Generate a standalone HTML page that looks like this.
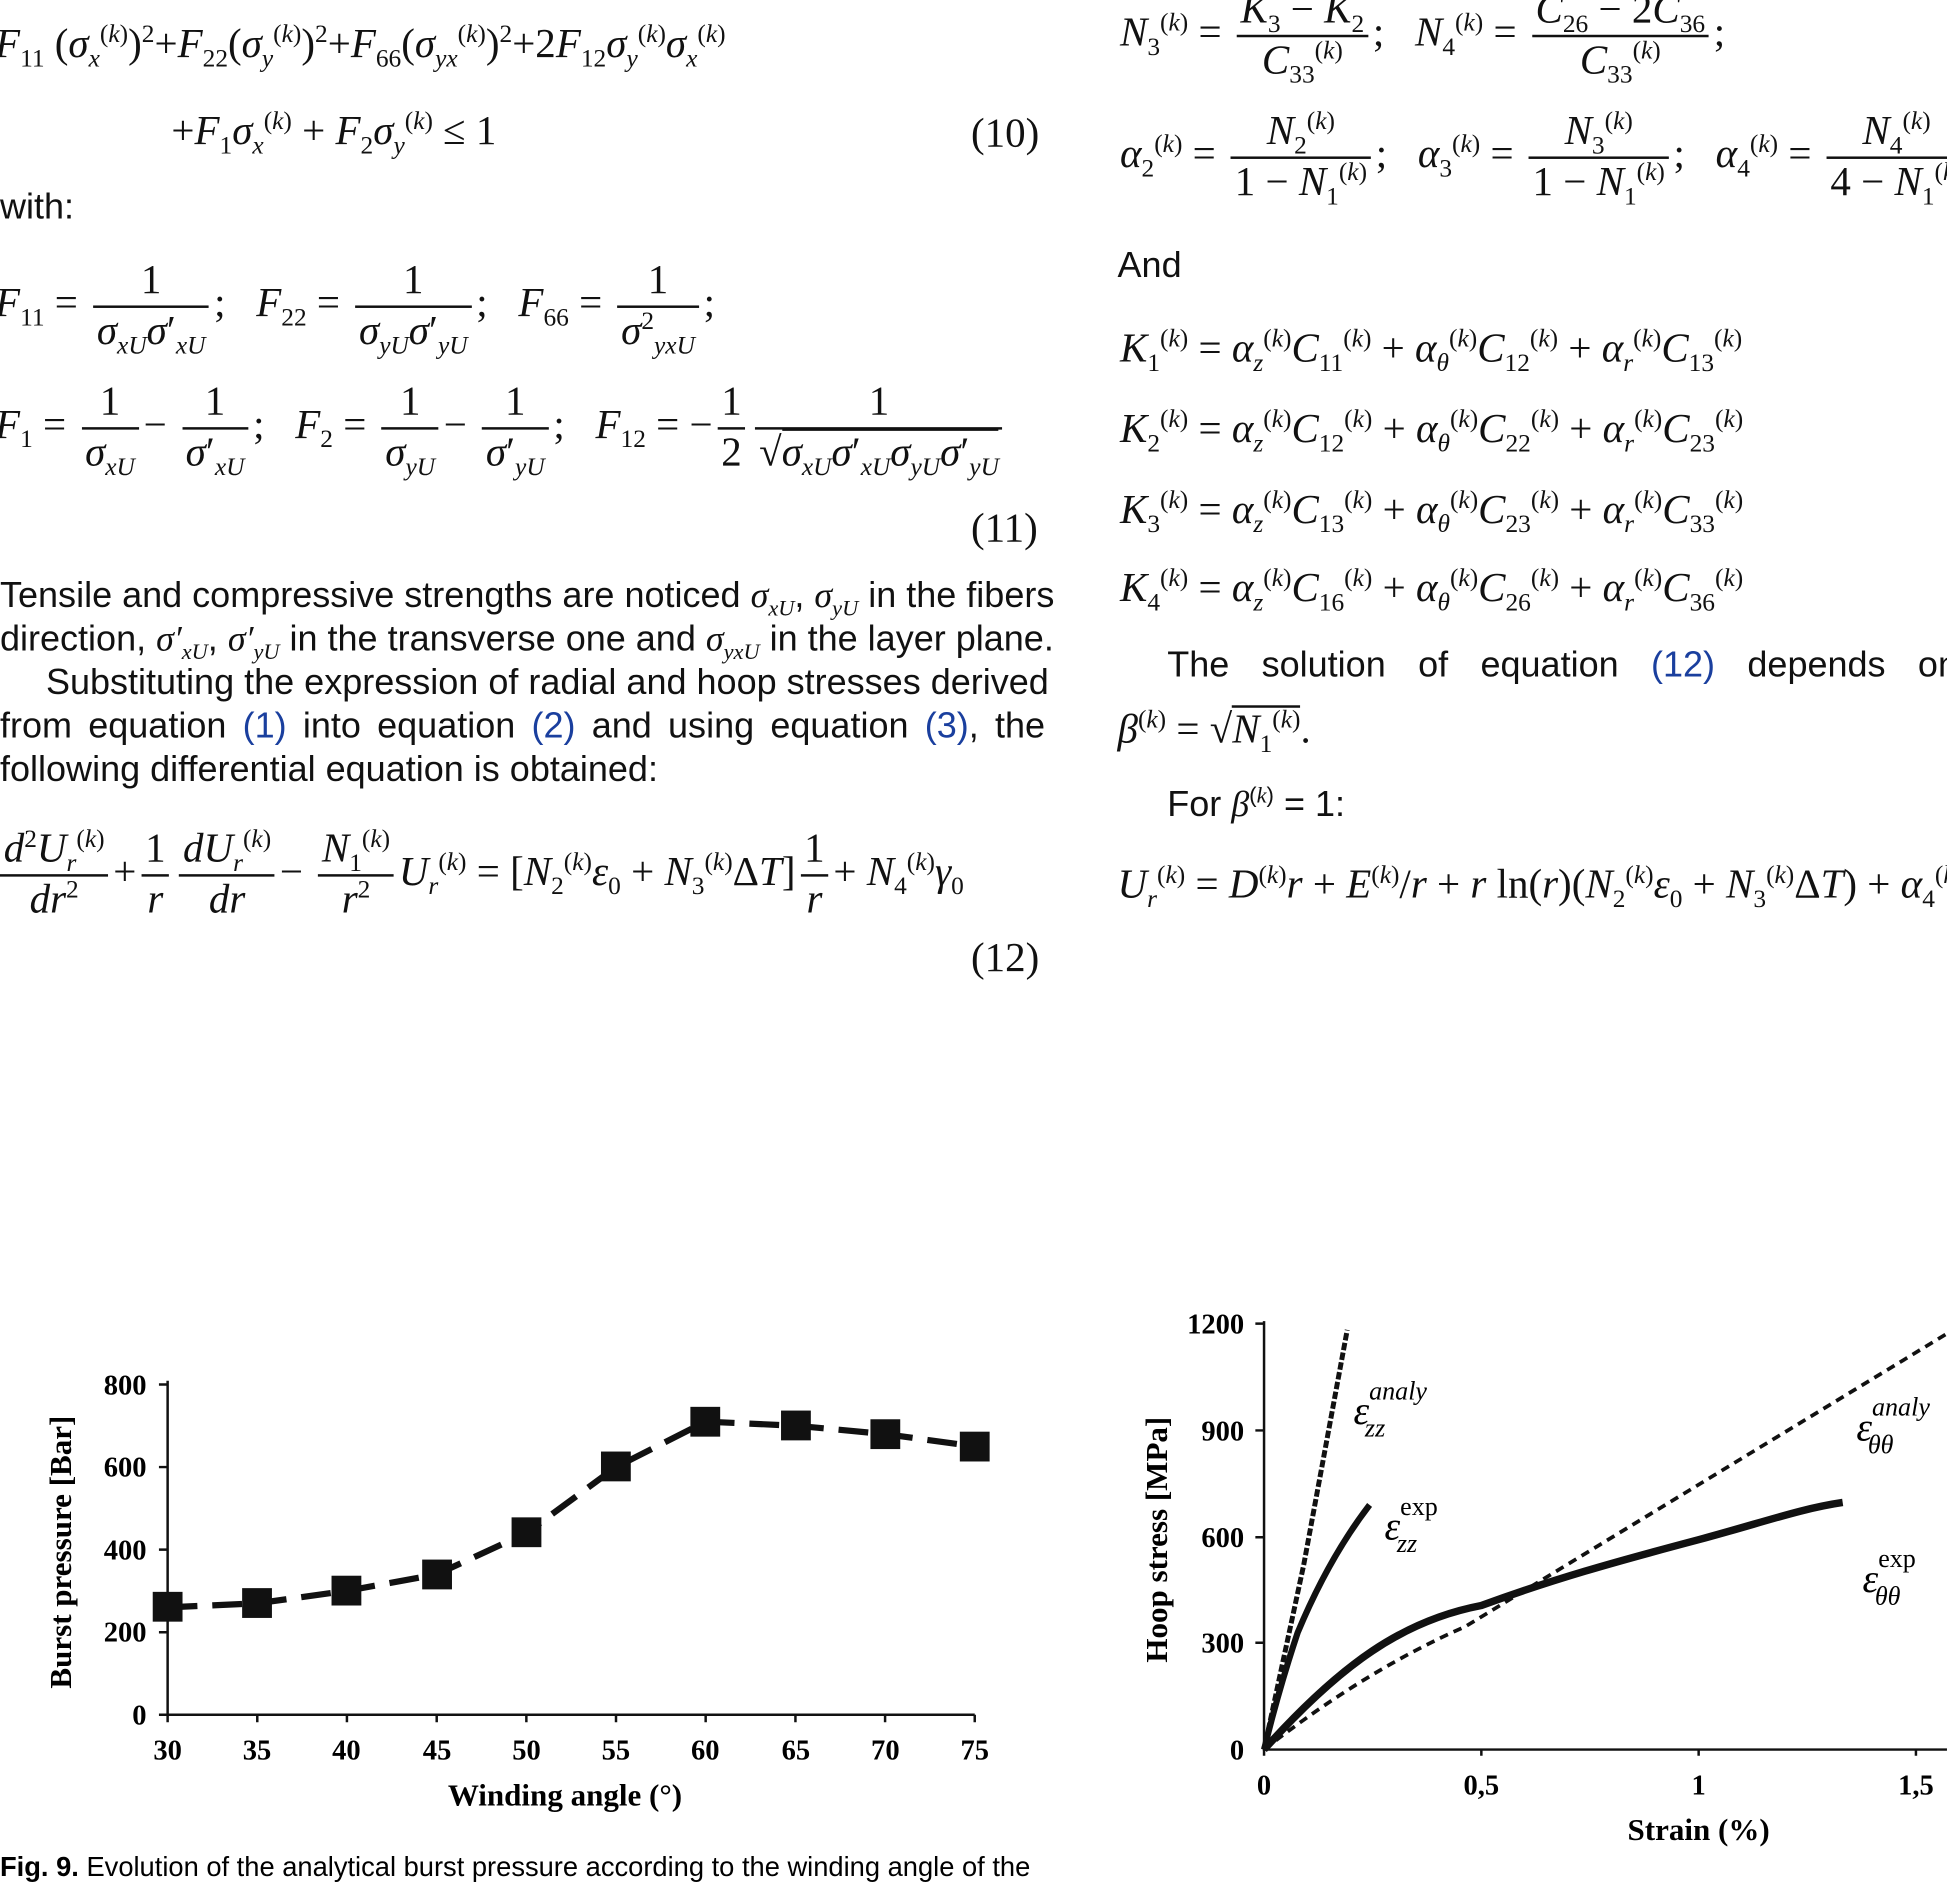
<!DOCTYPE html>
<html><head><meta charset="utf-8"><style>
html,body{margin:0;padding:0;background:#fff;}
#w{width:1947px;height:1883px;overflow:hidden;position:relative;}
#s{position:absolute;left:0;top:0;width:1568px;height:1517px;transform:scale(1.2417);transform-origin:0 0;font-family:"Liberation Sans",sans-serif;color:#111;}
.l{position:absolute;white-space:nowrap;font-size:29px;line-height:1;}
.m{font-family:"Liberation Serif",serif;font-size:33px;}
i{font-family:"Liberation Serif",serif;}
sup,sub{font-size:0.62em;line-height:0;}
.fr{display:inline-block;vertical-align:middle;text-align:center;margin:0 4px;}
.fr>span{display:block;padding:0 3px;}
.fr>span.n{border-bottom:2px solid #111;padding-bottom:3px;}
.fr>span.d{padding-top:3px;}
.b{color:#1a3f9e;}
.t{font-size:29px;}
</style></head><body><div id="w"><div id="s">

<div class="l m" style="left:-4px;top:20px;"><i>F</i><sub>11</sub> (<i>σ</i><sub><i>x</i></sub><sup>(<i>k</i>)</sup>)<sup>2</sup>+<i>F</i><sub>22</sub>(<i>σ</i><sub><i>y</i></sub><sup>(<i>k</i>)</sup>)<sup>2</sup>+<i>F</i><sub>66</sub>(<i>σ</i><sub><i>yx</i></sub><sup>(<i>k</i>)</sup>)<sup>2</sup>+2<i>F</i><sub>12</sub><i>σ</i><sub><i>y</i></sub><sup>(<i>k</i>)</sup><i>σ</i><sub><i>x</i></sub><sup>(<i>k</i>)</sup></div>
<div class="l m" style="left:138px;top:90px;">+<i>F</i><sub>1</sub><i>σ</i><sub><i>x</i></sub><sup>(<i>k</i>)</sup> + <i>F</i><sub>2</sub><i>σ</i><sub><i>y</i></sub><sup>(<i>k</i>)</sup> ≤ 1</div>
<div class="l m" style="left:782px;top:92px;">(10)</div>
<div class="l t" style="left:0;top:153px;">with:</div>

<div class="l m" style="left:-4px;top:210px;"><i>F</i><sub>11</sub> = <span class="fr"><span class="n">1</span><span class="d"><i>σ</i><sub><i>xU</i></sub><i>σ</i>′<sub><i>xU</i></sub></span></span>; &nbsp; <i>F</i><sub>22</sub> = <span class="fr"><span class="n">1</span><span class="d"><i>σ</i><sub><i>yU</i></sub><i>σ</i>′<sub><i>yU</i></sub></span></span>; &nbsp; <i>F</i><sub>66</sub> = <span class="fr"><span class="n">1</span><span class="d"><i>σ</i><sup>2</sup><sub><i>yxU</i></sub></span></span>;</div>
<div class="l m" style="left:-4px;top:308px;"><i>F</i><sub>1</sub> = <span class="fr"><span class="n">1</span><span class="d"><i>σ</i><sub><i>xU</i></sub></span></span>− <span class="fr"><span class="n">1</span><span class="d"><i>σ</i>′<sub><i>xU</i></sub></span></span>; &nbsp; <i>F</i><sub>2</sub> = <span class="fr"><span class="n">1</span><span class="d"><i>σ</i><sub><i>yU</i></sub></span></span>− <span class="fr"><span class="n">1</span><span class="d"><i>σ</i>′<sub><i>yU</i></sub></span></span>; &nbsp; <i>F</i><sub>12</sub> = −<span class="fr"><span class="n">1</span><span class="d">2</span></span><span class="fr"><span class="n">1</span><span class="d">√<span style="border-top:2px solid #111"><i>σ</i><sub><i>xU</i></sub><i>σ</i>′<sub><i>xU</i></sub><i>σ</i><sub><i>yU</i></sub><i>σ</i>′<sub><i>yU</i></sub></span></span></span></div>
<div class="l m" style="left:782px;top:410px;">(11)</div>

<div class="l t" style="left:0;top:466px;">Tensile and compressive strengths are noticed <i>σ<sub>xU</sub></i>, <i>σ<sub>yU</sub></i> in the fibers</div>
<div class="l t" style="left:0;top:501px;">direction, <i>σ′<sub>xU</sub></i>, <i>σ′<sub>yU</sub></i> in the transverse one and <i>σ<sub>yxU</sub></i> in the layer plane.</div>
<div class="l t" style="left:37px;top:536px;">Substituting the expression of radial and hoop stresses derived</div>
<div class="l t" style="left:0;top:571px;word-spacing:5px;">from equation <span class="b">(1)</span> into equation <span class="b">(2)</span> and using equation <span class="b">(3)</span>, the</div>
<div class="l t" style="left:0;top:606px;">following differential equation is obtained:</div>

<div class="l m" style="left:-4px;top:668px;"><span class="fr"><span class="n"><i>d</i><sup>2</sup><i>U</i><sub><i>r</i></sub><sup>(<i>k</i>)</sup></span><span class="d"><i>dr</i><sup>2</sup></span></span>+<span class="fr"><span class="n">1</span><span class="d"><i>r</i></span></span><span class="fr"><span class="n"><i>dU</i><sub><i>r</i></sub><sup>(<i>k</i>)</sup></span><span class="d"><i>dr</i></span></span>− <span class="fr"><span class="n"><i>N</i><sub>1</sub><sup>(<i>k</i>)</sup></span><span class="d"><i>r</i><sup>2</sup></span></span><i>U</i><sub><i>r</i></sub><sup>(<i>k</i>)</sup> = [<i>N</i><sub>2</sub><sup>(<i>k</i>)</sup><i>ε</i><sub>0</sub> + <i>N</i><sub>3</sub><sup>(<i>k</i>)</sup>Δ<i>T</i>]<span class="fr"><span class="n">1</span><span class="d"><i>r</i></span></span>+ <i>N</i><sub>4</sub><sup>(<i>k</i>)</sup><i>γ</i><sub>0</sub></div>
<div class="l m" style="left:782px;top:756px;">(12)</div>

<div class="l m" style="left:902px;top:-8px;"><i>N</i><sub>3</sub><sup>(<i>k</i>)</sup> = <span class="fr"><span class="n"><i>K</i><sub>3</sub> − <i>K</i><sub>2</sub></span><span class="d"><i>C</i><sub>33</sub><sup>(<i>k</i>)</sup></span></span>; &nbsp; <i>N</i><sub>4</sub><sup>(<i>k</i>)</sup> = <span class="fr"><span class="n"><i>C</i><sub>26</sub> − 2<i>C</i><sub>36</sub></span><span class="d"><i>C</i><sub>33</sub><sup>(<i>k</i>)</sup></span></span>;</div>
<div class="l m" style="left:902px;top:90px;"><i>α</i><sub>2</sub><sup>(<i>k</i>)</sup> = <span class="fr"><span class="n"><i>N</i><sub>2</sub><sup>(<i>k</i>)</sup></span><span class="d">1 − <i>N</i><sub>1</sub><sup>(<i>k</i>)</sup></span></span>; &nbsp; <i>α</i><sub>3</sub><sup>(<i>k</i>)</sup> = <span class="fr"><span class="n"><i>N</i><sub>3</sub><sup>(<i>k</i>)</sup></span><span class="d">1 − <i>N</i><sub>1</sub><sup>(<i>k</i>)</sup></span></span>; &nbsp; <i>α</i><sub>4</sub><sup>(<i>k</i>)</sup> = <span class="fr"><span class="n"><i>N</i><sub>4</sub><sup>(<i>k</i>)</sup></span><span class="d">4 − <i>N</i><sub>1</sub><sup>(<i>k</i>)</sup></span></span></div>
<div class="l t" style="left:900px;top:200px;">And</div>
<div class="l m" style="left:902px;top:265px;"><i>K</i><sub>1</sub><sup>(<i>k</i>)</sup> = <i>α</i><sub><i>z</i></sub><sup>(<i>k</i>)</sup><i>C</i><sub>11</sub><sup>(<i>k</i>)</sup> + <i>α</i><sub><i>θ</i></sub><sup>(<i>k</i>)</sup><i>C</i><sub>12</sub><sup>(<i>k</i>)</sup> + <i>α</i><sub><i>r</i></sub><sup>(<i>k</i>)</sup><i>C</i><sub>13</sub><sup>(<i>k</i>)</sup></div>
<div class="l m" style="left:902px;top:330px;"><i>K</i><sub>2</sub><sup>(<i>k</i>)</sup> = <i>α</i><sub><i>z</i></sub><sup>(<i>k</i>)</sup><i>C</i><sub>12</sub><sup>(<i>k</i>)</sup> + <i>α</i><sub><i>θ</i></sub><sup>(<i>k</i>)</sup><i>C</i><sub>22</sub><sup>(<i>k</i>)</sup> + <i>α</i><sub><i>r</i></sub><sup>(<i>k</i>)</sup><i>C</i><sub>23</sub><sup>(<i>k</i>)</sup></div>
<div class="l m" style="left:902px;top:395px;"><i>K</i><sub>3</sub><sup>(<i>k</i>)</sup> = <i>α</i><sub><i>z</i></sub><sup>(<i>k</i>)</sup><i>C</i><sub>13</sub><sup>(<i>k</i>)</sup> + <i>α</i><sub><i>θ</i></sub><sup>(<i>k</i>)</sup><i>C</i><sub>23</sub><sup>(<i>k</i>)</sup> + <i>α</i><sub><i>r</i></sub><sup>(<i>k</i>)</sup><i>C</i><sub>33</sub><sup>(<i>k</i>)</sup></div>
<div class="l m" style="left:902px;top:458px;"><i>K</i><sub>4</sub><sup>(<i>k</i>)</sup> = <i>α</i><sub><i>z</i></sub><sup>(<i>k</i>)</sup><i>C</i><sub>16</sub><sup>(<i>k</i>)</sup> + <i>α</i><sub><i>θ</i></sub><sup>(<i>k</i>)</sup><i>C</i><sub>26</sub><sup>(<i>k</i>)</sup> + <i>α</i><sub><i>r</i></sub><sup>(<i>k</i>)</sup><i>C</i><sub>36</sub><sup>(<i>k</i>)</sup></div>
<div class="l t" style="left:940px;top:522px;word-spacing:18px;">The solution of equation <span class="b">(12)</span> depends on the</div>
<div class="l m" style="left:900px;top:572px;"><i>β</i><sup>(<i>k</i>)</sup> = √<span style="border-top:2px solid #111"><i>N</i><sub>1</sub><sup>(<i>k</i>)</sup></span>.</div>
<div class="l t" style="left:940px;top:634px;">For <i>β</i><sup>(<i>k</i>)</sup> = 1:</div>
<div class="l m" style="left:900px;top:697px;"><i>U</i><sub><i>r</i></sub><sup>(<i>k</i>)</sup> = <i>D</i><sup>(<i>k</i>)</sup><i>r</i> + <i>E</i><sup>(<i>k</i>)</sup>/<i>r</i> + <i>r</i> ln(<i>r</i>)(<i>N</i><sub>2</sub><sup>(<i>k</i>)</sup><i>ε</i><sub>0</sub> + <i>N</i><sub>3</sub><sup>(<i>k</i>)</sup>Δ<i>T</i>) + <i>α</i><sub>4</sub><sup>(<i>k</i>)</sup></div>

<svg style="position:absolute;left:0;top:0" width="1568" height="1517" viewBox="0 0 1568 1517" font-family="Liberation Serif,serif" font-weight="bold">
 <g stroke="#111" stroke-width="2" fill="none">
  <path d="M135 1112V1381H785"/>
  <path d="M128 1115H135M128 1181.5H135M128 1248H135M128 1314.5H135M128 1381H135"/>
  <path d="M135 1381v6M207.2 1381v6M279.4 1381v6M351.7 1381v6M423.9 1381v6M496.1 1381v6M568.3 1381v6M640.6 1381v6M712.8 1381v6M785 1381v6"/>
 </g>
 <g font-size="23" text-anchor="end">
  <text x="118" y="1123">800</text><text x="118" y="1189">600</text><text x="118" y="1256">400</text><text x="118" y="1322">200</text><text x="118" y="1389">0</text>
 </g>
 <g font-size="23" text-anchor="middle">
  <text x="135" y="1417">30</text><text x="207" y="1417">35</text><text x="279" y="1417">40</text><text x="352" y="1417">45</text><text x="424" y="1417">50</text><text x="496" y="1417">55</text><text x="568" y="1417">60</text><text x="641" y="1417">65</text><text x="713" y="1417">70</text><text x="785" y="1417">75</text>
 </g>
 <text x="455" y="1454" font-size="25" text-anchor="middle">Winding angle (°)</text>
 <text transform="translate(57 1250) rotate(-90)" font-size="25" text-anchor="middle">Burst pressure [Bar]</text>
 <polyline points="135,1294.5 207.2,1291.2 279.4,1281.2 351.7,1267.9 423.9,1234.6 496.1,1181.5 568.3,1144.9 640.6,1148.2 712.8,1154.9 785,1164.9" fill="none" stroke="#111" stroke-width="5" stroke-dasharray="24 12"/>
 <g fill="#111">
  <rect x="123" y="1282" width="24" height="24"/><rect x="195" y="1279" width="24" height="24"/><rect x="267" y="1269" width="24" height="24"/><rect x="340" y="1256" width="24" height="24"/><rect x="412" y="1222" width="24" height="24"/><rect x="484" y="1169" width="24" height="24"/><rect x="556" y="1133" width="24" height="24"/><rect x="629" y="1136" width="24" height="24"/><rect x="701" y="1143" width="24" height="24"/><rect x="773" y="1153" width="24" height="24"/>
 </g>
 <text x="0" y="1511" font-family="Liberation Sans,sans-serif" font-size="22" font-weight="bold">Fig. 9.<tspan font-weight="normal"> Evolution of the analytical burst pressure according to the winding angle of the</tspan></text>

 <g stroke="#111" stroke-width="2" fill="none">
  <path d="M1018 1064V1409H1568"/>
  <path d="M1011 1066H1018M1011 1152H1018M1011 1238H1018M1011 1323H1018"/>
  <path d="M1018 1409v5M1193 1409v5M1368 1409v5M1543 1409v5"/>
 </g>
 <g font-size="23" text-anchor="end">
  <text x="1002" y="1074">1200</text><text x="1002" y="1160">900</text><text x="1002" y="1246">600</text><text x="1002" y="1331">300</text><text x="1002" y="1417">0</text>
 </g>
 <g font-size="23" text-anchor="middle">
  <text x="1018" y="1445">0</text><text x="1193" y="1445">0,5</text><text x="1368" y="1445">1</text><text x="1543" y="1445">1,5</text>
 </g>
 <text x="1368" y="1482" font-size="25" text-anchor="middle">Strain (%)</text>
 <text transform="translate(940 1240) rotate(-90)" font-size="25" text-anchor="middle">Hoop stress  [MPa]</text>
 <path d="M1018 1409 L1050 1260 L1085 1071" fill="none" stroke="#111" stroke-width="4" stroke-dasharray="6 2"/>
 <path d="M1018 1409 Q1030 1360 1045 1315 Q1070 1255 1103 1212" fill="none" stroke="#111" stroke-width="5"/>
 <path d="M1018 1409 Q1100 1345 1180 1310 L1568 1074" fill="none" stroke="#111" stroke-width="3" stroke-dasharray="7 5"/>
 <path d="M1018 1409 C1080 1340 1130 1305 1193 1293 C1250 1272 1300 1258 1368 1240 C1420 1226 1450 1215 1484 1210" fill="none" stroke="#111" stroke-width="6"/>
 <g font-weight="normal" font-style="italic">
  <text x="1090" y="1147" font-size="32">ε<tspan font-size="21" dy="-20">analy</tspan><tspan font-size="21" dx="-50" dy="30">zz</tspan></text>
  <text x="1115" y="1240" font-size="32">ε<tspan font-size="21" dy="-20" font-style="normal">exp</tspan><tspan font-size="21" dx="-33" dy="30">zz</tspan></text>
  <text x="1495" y="1160" font-size="32">ε<tspan font-size="21" dy="-20">analy</tspan><tspan font-size="21" dx="-50" dy="30">θθ</tspan></text>
  <text x="1500" y="1282" font-size="32">ε<tspan font-size="21" dy="-20" font-style="normal">exp</tspan><tspan font-size="21" dx="-33" dy="30">θθ</tspan></text>
 </g>
</svg>
</div></div></body></html>
